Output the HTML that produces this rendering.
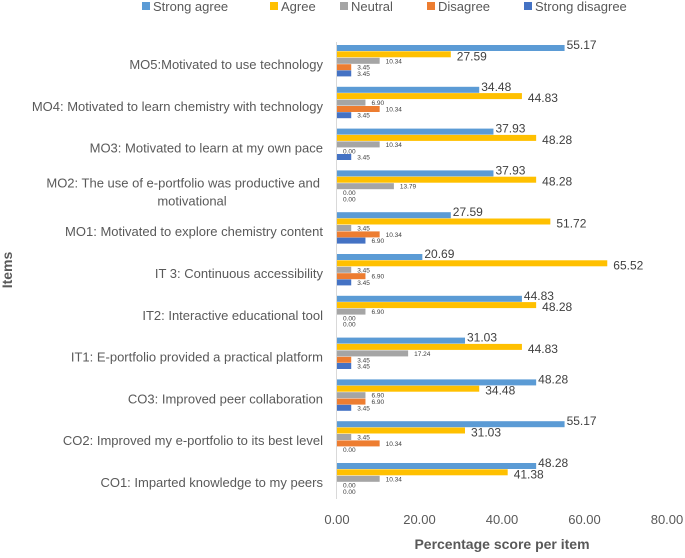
<!DOCTYPE html>
<html><head><meta charset="utf-8"><style>
body{margin:0;background:#fff;}
svg text{font-family:"Liberation Sans",sans-serif;}
</style></head><body>
<svg id="chart" width="685" height="553" xmlns="http://www.w3.org/2000/svg"></svg>
<script>
const categories=["MO5:Motivated to use technology","MO4: Motivated to learn chemistry with  technology","MO3: Motivated to learn at my own pace","MO2: The use of e-portfolio was productive and|motivational","MO1: Motivated to explore chemistry content","IT 3: Continuous accessibility","IT2: Interactive educational tool","IT1: E-portfolio provided a practical platform","CO3: Improved peer collaboration","CO2: Improved my e-portfolio to its best level","CO1: Imparted knowledge to my peers"];
const seriesNames=["Strong agree","Agree","Neutral","Disagree","Strong disagree"];
const strongAgree=[55.17,34.48,37.93,37.93,27.59,20.69,44.83,31.03,48.28,55.17,48.28];
const agree=[27.59,44.83,48.28,48.28,51.72,65.52,48.28,44.83,34.48,31.03,41.38];
const neutral=[10.34,6.90,10.34,13.79,3.45,3.45,6.90,17.24,6.90,3.45,10.34];
const disagree=[3.45,10.34,0,0,10.34,6.90,0,3.45,6.90,10.34,0];
const strongDisagree=[3.45,3.45,3.45,0,6.90,3.45,0,3.45,3.45,0,0];
const xTicks=[0,20,40,60,80];
const colors=["#5b9bd5","#ffc000","#a5a5a5","#ed7d31","#4472c4"];
const svg=document.getElementById('chart');
const NS="http://www.w3.org/2000/svg";
const x0=337,x1=667,xmax=80;
const xs=v=>x0+v/xmax*(x1-x0);
const gTop=45,pitch=41.8;
function mk(tag,attrs,txt){const e=document.createElementNS(NS,tag);for(const k in attrs)e.setAttribute(k,attrs[k]);if(txt!==undefined)e.textContent=txt;svg.appendChild(e);return e;}
let ax=mk('line',{x1:336.5,x2:336.5,y1:42,y2:499,stroke:'#d9d9d9','stroke-width':1});


xTicks.forEach(t=>{
  const e=mk('text',{x:xs(t),y:524,'font-size':13,fill:'#595959','text-anchor':'middle'},t.toFixed(2));
  
  
});
const allSeries=[strongAgree,agree,neutral,disagree,strongDisagree];
const offs=[0,6.3,12.8,19.2,25.4];
categories.forEach((c,i)=>{
  const gy=gTop+i*pitch;
  const parts=c.split('|');
  const cy=gy+19;
  if(parts.length==1){
    const e=mk('text',{x:323,y:cy+5,'font-size':13,fill:'#595959','text-anchor':'end'},parts[0]);
    
    
  }else{
    const e=mk('text',{x:320,y:cy-2,'font-size':13,fill:'#595959','text-anchor':'end'},parts[0]);
    
    
    const e2=mk('text',{x:192,y:cy+16,'font-size':13,fill:'#595959','text-anchor':'middle'},parts[1]);
    
    
  }
  allSeries.forEach((s,k)=>{
    const v=s[i];const y=gy+offs[k];
    const r=mk('rect',{x:x0,y:y,width:Math.max(0,xs(v)-x0),height:6,fill:colors[k]});
    
    
    const big=k<2;
    const lx=xs(v)+(big?(k==0?2:6):6);
    const ly=big?(k==0?y+4:y+9):y+5.5;
    const t=mk('text',{x:lx,y:ly,'font-size':big?12:6.5,fill:'#404040'},v.toFixed(2));
    
    
  });
});
const legX=[142,270,340,427,524];
seriesNames.forEach((n,k)=>{
  const r=mk('rect',{x:legX[k],y:2,width:8,height:8,fill:colors[k]});
  
  
  const t=mk('text',{x:legX[k]+11,y:11,'font-size':13,fill:'#595959'},n);
  
  
});
const xt=mk('text',{x:502,y:549,'font-size':14,'font-weight':'bold',fill:'#595959','text-anchor':'middle'},'Percentage score per item');


const yt=mk('text',{x:12,y:270,'font-size':14,'font-weight':'bold',fill:'#595959','text-anchor':'middle',transform:'rotate(-90 12 270)'},'Items');


</script>
</body></html>
